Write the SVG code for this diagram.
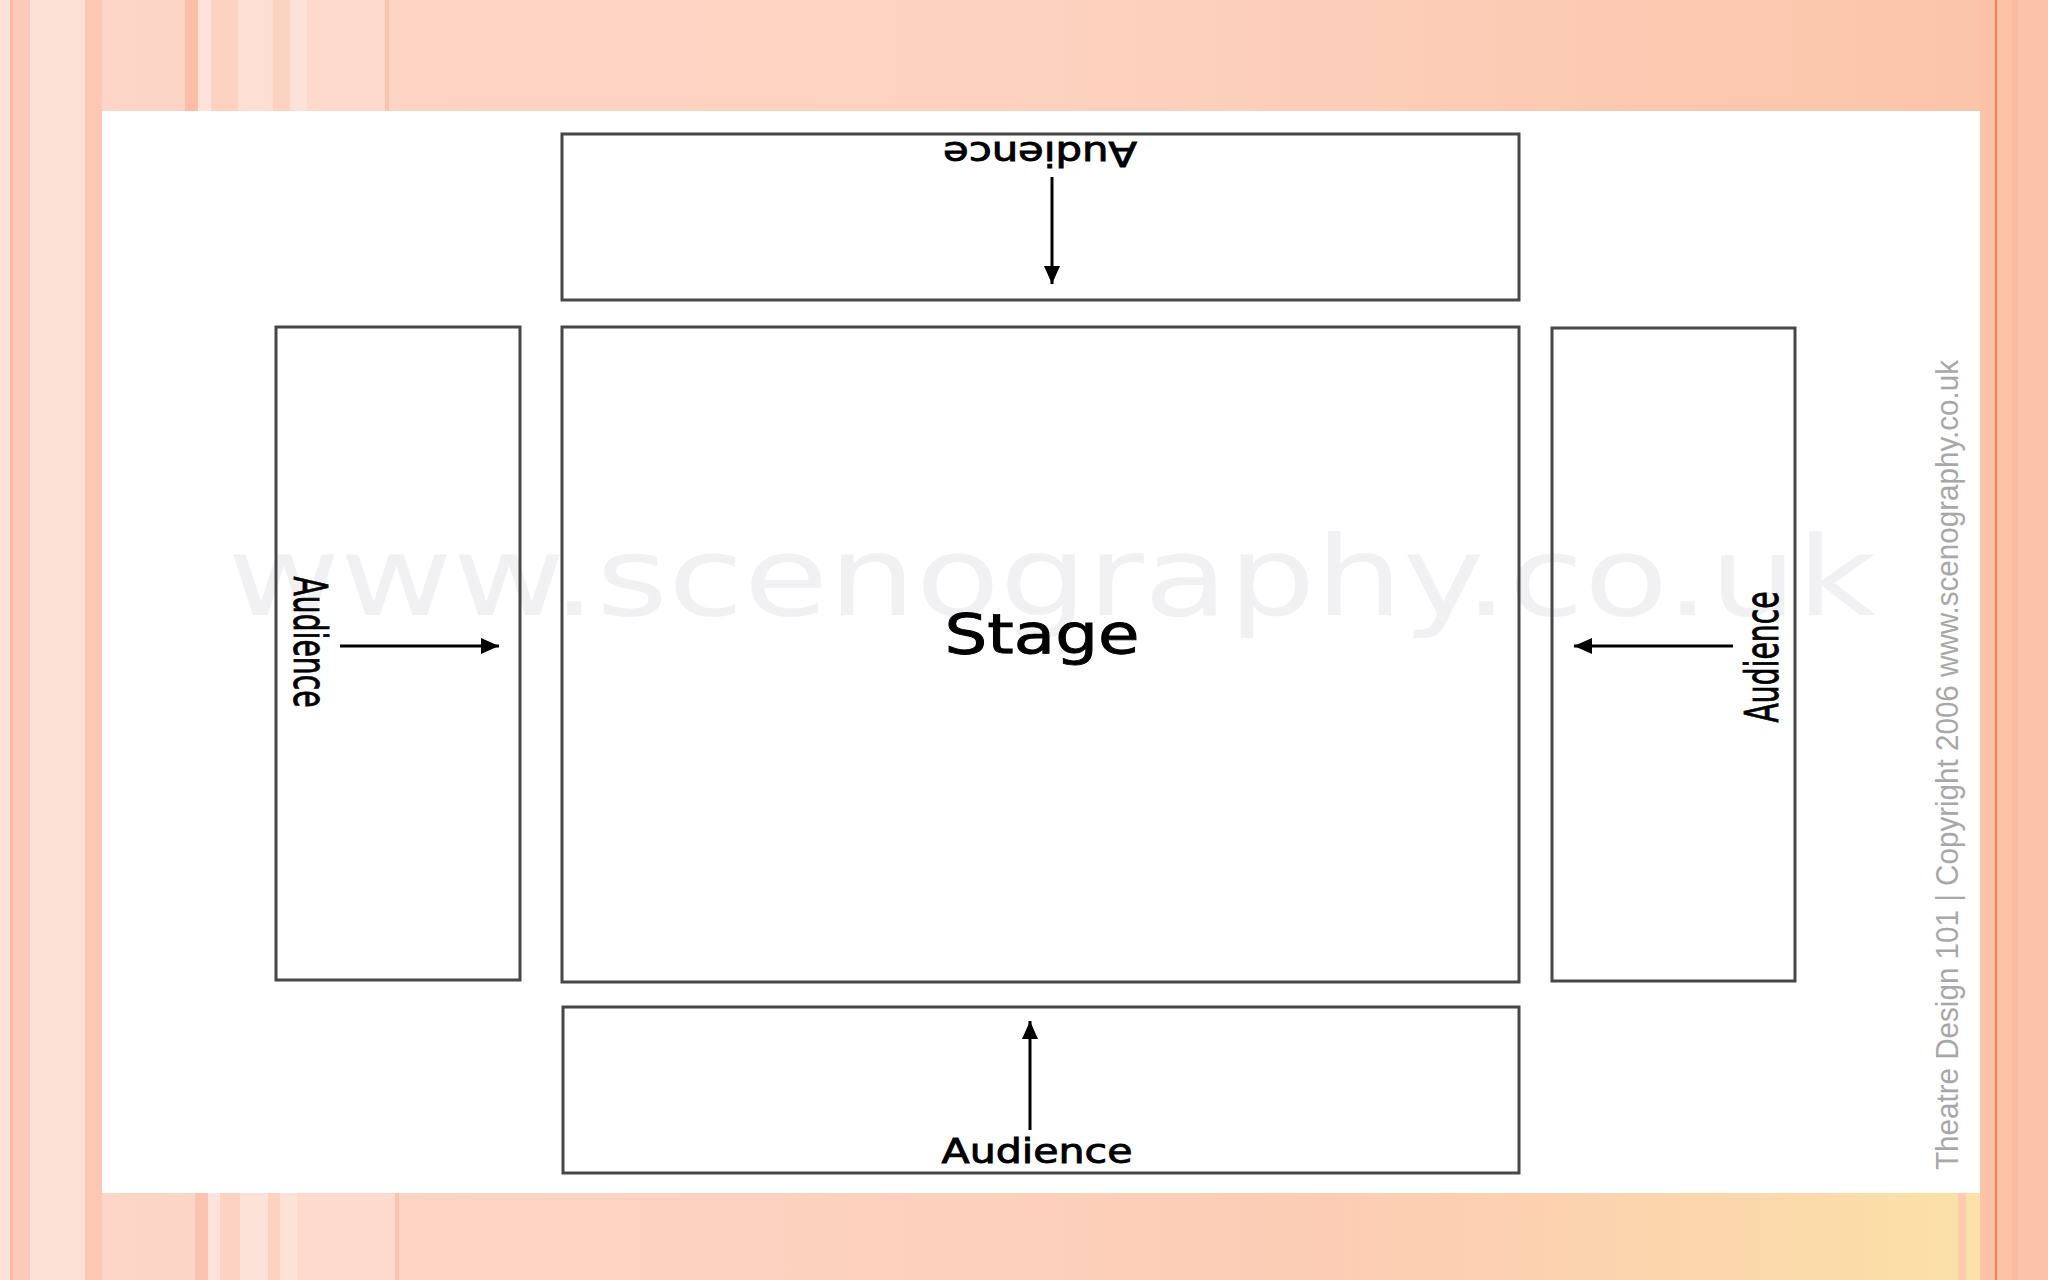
<svg xmlns="http://www.w3.org/2000/svg" width="2048" height="1280" viewBox="0 0 2048 1280">
<defs>
<linearGradient id="bg" x1="0" y1="0" x2="1" y2="0">
<stop offset="0" stop-color="#fdd6c8"/>
<stop offset="0.5" stop-color="#fdd2c0"/>
<stop offset="1" stop-color="#fbc4a8"/>
</linearGradient>
<linearGradient id="bottomband" x1="0" y1="0" x2="1" y2="0">
<stop offset="0" stop-color="#fcd0bd" stop-opacity="0"/>
<stop offset="0.6" stop-color="#fcccb2" stop-opacity="0.6"/>
<stop offset="1" stop-color="#fbe2a6"/>
</linearGradient>
<marker id="ah" markerUnits="userSpaceOnUse" markerWidth="20" markerHeight="16" refX="18" refY="8" orient="auto">
<path d="M0,0 L18,8 L0,16 Z" fill="#000"/>
</marker>
<style>
.box{fill:#fff;stroke:#474747;stroke-width:3}
.lbl{font-family:"DejaVu Sans","Liberation Sans",sans-serif;fill:#000;stroke:#000;stroke-width:0.9}
.arrow{stroke:#000;stroke-width:3;fill:none;marker-end:url(#ah)}
</style>
</defs>
<!-- background -->
<rect x="0" y="0" width="2048" height="1280" fill="url(#bg)"/>
<rect x="300" y="1193" width="1680" height="87" fill="url(#bottomband)"/>
<g id="stripes-left">
<rect x="0" y="0" width="10" height="1280" fill="#fde2d8"/>
<rect x="10" y="0" width="3" height="1280" fill="#fbb9a0"/>
<rect x="13" y="0" width="17" height="1280" fill="#fccab8"/>
<rect x="30" y="0" width="55" height="1280" fill="#fde0d5"/>
<rect x="85" y="0" width="17" height="1280" fill="#fcc8b4"/>
<rect x="185" y="0" width="13" height="111" fill="#fcbea6"/>
<rect x="198" y="0" width="13" height="111" fill="#fee3db"/>
<rect x="211" y="0" width="27" height="111" fill="#fcd3c2"/>
<rect x="238" y="0" width="35" height="111" fill="#fddfd4"/>
<rect x="273" y="0" width="17" height="111" fill="#fcd2c0"/>
<rect x="290" y="0" width="17" height="111" fill="#fde2d8"/>
<rect x="307" y="0" width="78" height="111" fill="#fddacb"/>
<rect x="385" y="0" width="4" height="111" fill="#fcc4ae"/>
<rect x="195" y="1193" width="13" height="87" fill="#fcc4ae"/>
<rect x="208" y="1193" width="12" height="87" fill="#fee3db"/>
<rect x="220" y="1193" width="20" height="87" fill="#fcd3c2"/>
<rect x="240" y="1193" width="28" height="87" fill="#fde2d8"/>
<rect x="268" y="1193" width="12" height="87" fill="#fcd2c0"/>
<rect x="280" y="1193" width="17" height="87" fill="#fde2d8"/>
<rect x="297" y="1193" width="98" height="87" fill="#fddacb"/>
<rect x="395" y="1193" width="4" height="87" fill="#fcc4ae"/>
</g>
<g id="stripes-right">
<rect x="1980" y="0" width="68" height="1280" fill="#fcc3a8"/>
<rect x="1995" y="0" width="2" height="1280" fill="#f4884e"/>
<rect x="2012" y="0" width="6" height="1280" fill="#fbbba0"/>
<rect x="1958" y="1193" width="8" height="87" fill="#fccbb0"/>
</g>
<!-- white panel -->
<rect id="panel" x="102" y="111" width="1878" height="1082" fill="#fff"/>
<!-- watermark -->
<text x="1052" y="615" font-family="DejaVu Sans, sans-serif" font-size="110" fill="#f1f1f4" text-anchor="middle" textLength="1649" lengthAdjust="spacingAndGlyphs">www.scenography.co.uk</text>
<!-- nodes -->
<g id="audience-top">
<rect class="box" x="562" y="134" width="957" height="166" fill-opacity="0"/>
<text class="lbl" transform="translate(1040,142) rotate(180)" font-size="34" text-anchor="middle" textLength="194" lengthAdjust="spacingAndGlyphs">Audience</text>
</g>
<g id="stage">
<rect class="box" x="562" y="327" width="957" height="655" fill-opacity="0"/>
<text class="lbl" x="1042" y="653" font-size="55" text-anchor="middle" textLength="195" lengthAdjust="spacingAndGlyphs">Stage</text>
</g>
<g id="audience-left">
<rect class="box" x="276" y="327" width="244" height="653" fill-opacity="0"/>
<text class="lbl" transform="translate(294,642) rotate(90)" font-size="46" text-anchor="middle" textLength="131" lengthAdjust="spacingAndGlyphs">Audience</text>
</g>
<g id="audience-right">
<rect class="box" x="1552" y="328" width="243" height="653" fill-opacity="0"/>
<text class="lbl" transform="translate(1778,657) rotate(-90)" font-size="46" text-anchor="middle" textLength="131" lengthAdjust="spacingAndGlyphs">Audience</text>
</g>
<g id="audience-bottom">
<rect class="box" x="563" y="1007" width="956" height="166" fill-opacity="0"/>
<text class="lbl" x="1037" y="1163" font-size="34" text-anchor="middle" textLength="191" lengthAdjust="spacingAndGlyphs">Audience</text>
</g>
<!-- connectors -->
<g id="connectors">
<line class="arrow" x1="1052" y1="177" x2="1052" y2="284"/>
<line class="arrow" x1="1030" y1="1130" x2="1030" y2="1021"/>
<line class="arrow" x1="340" y1="646" x2="499" y2="646"/>
<line class="arrow" x1="1733" y1="646" x2="1574" y2="646"/>
</g>
<!-- copyright -->
<text transform="translate(1958,765) rotate(-90)" font-family="Liberation Sans, sans-serif" font-size="32" fill="#a8a8a8" text-anchor="middle" textLength="810" lengthAdjust="spacingAndGlyphs">Theatre Design 101 | Copyright 2006 www.scenography.co.uk</text>
</svg>
